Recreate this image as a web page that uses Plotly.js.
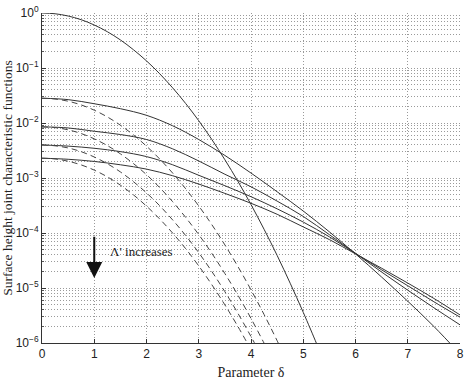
<!DOCTYPE html>
<html>
<head>
<meta charset="utf-8">
<script src="https://cdn.plot.ly/plotly-3.0.1.min.js"></script>
<style>html,body{margin:0;padding:0;background:#fff;}#chart{width:474px;height:387px;}</style>
</head>
<body>
<div id="chart"></div>
<script>
// Parameter delta grids
var deltaFine = [0,0.25,0.5,0.75,1,1.25,1.5,1.75,2,2.25,2.5,2.75,3,3.25,3.5,3.75,4,4.25,4.5,4.75,5,5.25,5.3];
var deltaSolid = [0,0.5,1,1.5,2,2.5,3,3.5,4,4.5,5,5.5,6,6.5,7,7.5,8];

// Top solid curve (starts at 1)
var topCurve = [1,0.969,0.882,0.755,0.605,0.457,0.324,0.215,0.1346,0.0791,0.0436,0.0226,0.0110,5.02e-3,2.15e-3,8.69e-4,3.29e-4,1.17e-4,3.91e-5,1.22e-5,3.61e-6,1.0e-6,7.67e-7];

// Solid curves
var solidA = [2.82e-2,2.66e-2,2.24e-2,1.82e-2,1.38e-2,8.91e-3,5.01e-3,2.57e-3,1.23e-3,5.62e-4,2.51e-4,1.05e-4,4.17e-5,1.58e-5,5.75e-6,2.00e-6,6.31e-7];
var solidB = [8.51e-3,8.13e-3,7.08e-3,6.17e-3,5.01e-3,3.39e-3,2.04e-3,1.17e-3,6.92e-4,3.80e-4,2.00e-4,9.33e-5,4.27e-5,1.95e-5,9.12e-6,4.37e-6,2.14e-6];
var solidC = [3.98e-3,3.80e-3,3.47e-3,3.02e-3,2.45e-3,1.74e-3,1.12e-3,7.24e-4,4.57e-4,2.75e-4,1.58e-4,8.51e-5,4.27e-5,2.14e-5,1.10e-5,5.62e-6,2.95e-6];
var solidD = [2.29e-3,2.19e-3,2.00e-3,1.74e-3,1.45e-3,1.10e-3,7.76e-4,5.25e-4,3.47e-4,2.19e-4,1.29e-4,7.59e-5,4.17e-5,2.29e-5,1.23e-5,6.46e-6,3.24e-6];

// Dashed curves
var deltaDashA = [0,0.25,0.5,0.75,1,1.25,1.5,1.75,2,2.25,2.5,2.75,3,3.25,3.5,3.75,4,4.25,4.5,4.6];
var dashA = [2.82e-2,2.73e-2,2.49e-2,2.13e-2,1.71e-2,1.29e-2,9.12e-3,6.07e-3,3.79e-3,2.23e-3,1.23e-3,6.37e-4,3.10e-4,1.42e-4,6.07e-5,2.45e-5,9.27e-6,3.30e-6,1.10e-6,6.97e-7];
var deltaDashB = [0,0.25,0.5,0.75,1,1.25,1.5,1.75,2,2.25,2.5,2.75,3,3.25,3.5,3.75,4,4.25,4.3];
var dashB = [8.51e-3,8.24e-3,7.52e-3,6.43e-3,5.15e-3,3.89e-3,2.75e-3,1.83e-3,1.15e-3,6.73e-4,3.71e-4,1.92e-4,9.35e-5,4.28e-5,1.83e-5,7.40e-6,2.80e-6,9.95e-7,8.04e-7];
var deltaDashC = [0,0.25,0.5,0.75,1,1.25,1.5,1.75,2,2.25,2.5,2.75,3,3.25,3.5,3.75,4,4.15];
var dashC = [3.98e-3,3.85e-3,3.52e-3,3.01e-3,2.41e-3,1.82e-3,1.29e-3,8.57e-4,5.36e-4,3.15e-4,1.73e-4,8.99e-5,4.38e-5,2.00e-5,8.57e-6,3.46e-6,1.31e-6,7.10e-7];
var deltaDashD = [0,0.25,0.5,0.75,1,1.25,1.5,1.75,2,2.25,2.5,2.75,3,3.25,3.5,3.75,4];
var dashD = [2.29e-3,2.22e-3,2.02e-3,1.73e-3,1.39e-3,1.05e-3,7.41e-4,4.93e-4,3.08e-4,1.81e-4,9.98e-5,5.18e-5,2.52e-5,1.15e-5,4.93e-6,1.99e-6,7.53e-7];

// Tick labels
var xTickVals = [0,1,2,3,4,5,6,7,8];
var yTickVals = [1e-6,1e-5,1e-4,1e-3,1e-2,1e-1,1];
var yTickText = ['10<sup>−6</sup>','10<sup>−5</sup>','10<sup>−4</sup>','10<sup>−3</sup>','10<sup>−2</sup>','10<sup>−1</sup>','10<sup>0</sup>'];

var minorVals = [];
for (var e = -6; e < 0; e++) { for (var m = 2; m <= 9; m++) { minorVals.push(m * Math.pow(10, e)); } }

var lineCol = '#333';
function solid(x, y) { return {x: x, y: y, mode: 'lines', type: 'scatter', line: {color: lineCol, width: 1, shape: 'spline'}, hoverinfo: 'skip'}; }
function dashed(x, y) { return {x: x, y: y, mode: 'lines', type: 'scatter', line: {color: '#444', width: 1, dash: '6px,4px', shape: 'spline'}, hoverinfo: 'skip'}; }

var data = [
  solid(deltaFine, topCurve),
  solid(deltaSolid, solidA), solid(deltaSolid, solidB), solid(deltaSolid, solidC), solid(deltaSolid, solidD),
  dashed(deltaDashA, dashA), dashed(deltaDashB, dashB), dashed(deltaDashC, dashC), dashed(deltaDashD, dashD)
];

var gridCol = '#9a9a9a';
var gridDash = '1px,2px';
var layout = {
  width: 474, height: 387,
  margin: {l: 42, r: 14, t: 13, b: 44},
  paper_bgcolor: '#fff', plot_bgcolor: '#fff',
  showlegend: false,
  font: {family: 'Liberation Sans, Arial, sans-serif', size: 12, color: '#222'},
  xaxis: {
    range: [0, 8], tickmode: 'array', tickvals: xTickVals,
    ticks: 'inside', ticklen: 4, tickcolor: '#333',
    showgrid: true, gridcolor: gridCol, griddash: gridDash, gridwidth: 1,
    showline: true, linecolor: '#333', linewidth: 1, zeroline: false,
    tickfont: {family: 'Liberation Sans, Arial, sans-serif', size: 12, color: '#222'},
    title: {text: 'Parameter δ', font: {family: 'Liberation Serif, Times New Roman, serif', size: 14, color: '#222'}, standoff: 6},
    automargin: false
  },
  yaxis: {
    type: 'log', range: [-6, 0], tickmode: 'array', tickvals: yTickVals, ticktext: yTickText,
    ticks: 'inside', ticklen: 4, tickcolor: '#333',
    showgrid: true, gridcolor: gridCol, griddash: gridDash, gridwidth: 1,
    minor: {tickmode: 'array', tickvals: minorVals, showgrid: true, gridcolor: gridCol, griddash: gridDash, gridwidth: 1, ticks: 'inside', ticklen: 2, tickcolor: '#555'},
    showline: true, linecolor: '#333', linewidth: 1, zeroline: false,
    tickfont: {family: 'Liberation Sans, Arial, sans-serif', size: 12, color: '#222'},
    title: {text: 'Surface height joint characteristic functions', font: {family: 'Liberation Serif, Times New Roman, serif', size: 13.5, color: '#222'}, standoff: 2},
    automargin: false
  },
  annotations: [
    {x: 1.26, y: -4.34, xref: 'x', yref: 'y', text: 'Λ\' increases', showarrow: false, xanchor: 'left', yanchor: 'middle',
     font: {family: 'Liberation Serif, Times New Roman, serif', size: 13, color: '#222'}},
    {x: 1, y: -4.82, ax: 1, ay: -4.04, xref: 'x', yref: 'y', axref: 'x', ayref: 'y', text: '', showarrow: true,
     arrowhead: 2, arrowsize: 1.6, arrowwidth: 2, arrowcolor: '#111', standoff: 0, startstandoff: 0}
  ]
};

Plotly.newPlot('chart', data, layout, {staticPlot: true, displayModeBar: false});
</script>
</body>
</html>
